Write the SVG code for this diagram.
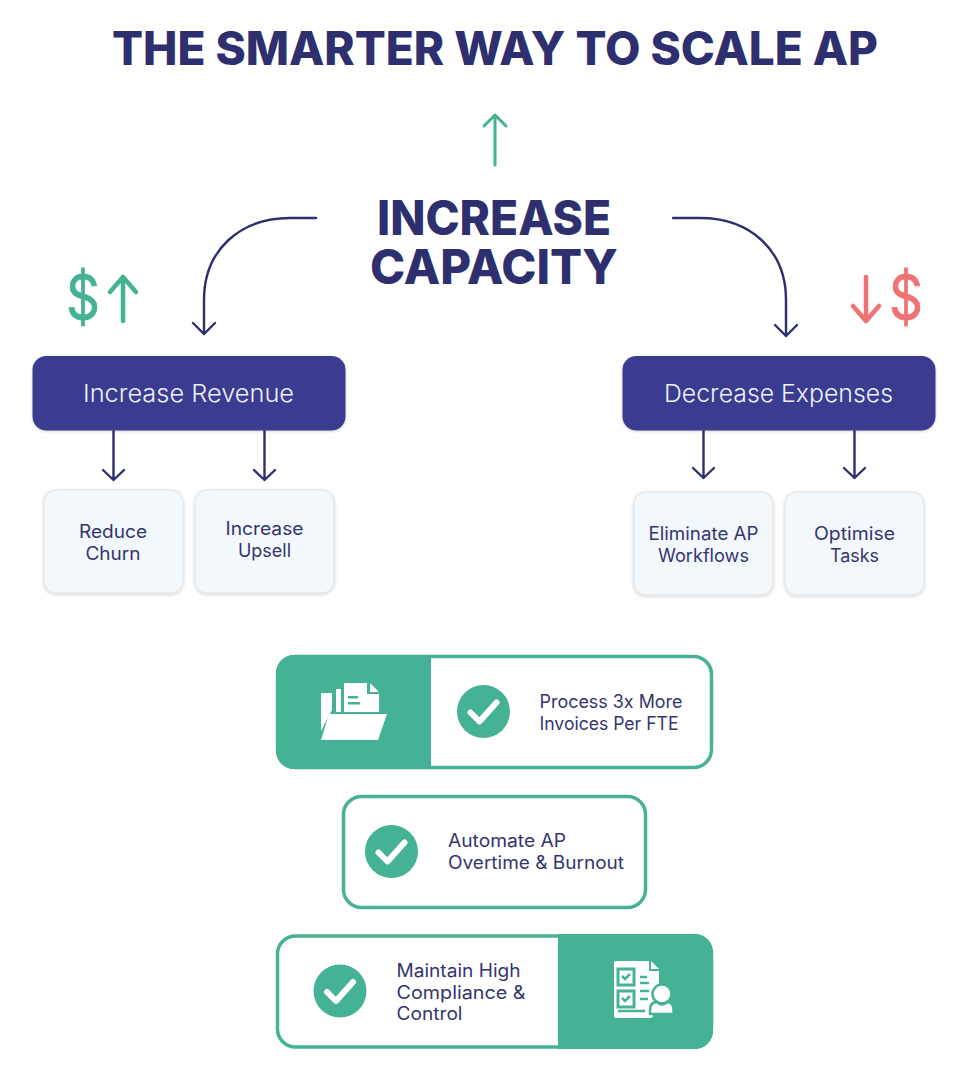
<svg xmlns="http://www.w3.org/2000/svg" width="968" height="1080" viewBox="0 0 968 1080">
<defs>
<filter id="sh" x="-10%" y="-10%" width="120%" height="125%"><feDropShadow dx="0" dy="1" stdDeviation="1.5" flood-color="#000" flood-opacity="0.18"/></filter>
<g id="check"><circle r="26.5" fill="#45b296"/><path d="M-13 1 L-4 10 L13 -9" fill="none" stroke="#fff" stroke-width="6" stroke-linecap="round" stroke-linejoin="round"/></g>
</defs>
<style>
text{font-family:"Inter","Liberation Sans",sans-serif;text-anchor:middle}
.title{font-weight:800;fill:#2e2f6e}
.hd{font-size:24px;font-weight:300;fill:#eef0fa}
.sub{font-size:18px;font-weight:400;fill:#34356f}
.lbl{font-size:18px;font-weight:400;fill:#34356f;text-anchor:start}
.dark{fill:#3a3a90;filter:url(#sh)}
.light{fill:#f3f8fd;stroke:#e6e8ea;stroke-width:1.5;filter:url(#sh)}
.outline{fill:#fff;stroke:#45b296;stroke-width:3.5}
.teal{fill:#45b296}
.conn{fill:none;stroke:#2e2f6e;stroke-width:2.4;stroke-linecap:round;stroke-linejoin:round}
.gr{fill:none;stroke:#45b296;stroke-width:3;stroke-linecap:round;stroke-linejoin:round}
.sym{fill:none;stroke-width:4.5;stroke-linecap:round;stroke-linejoin:round}
</style>
<rect width="968" height="1080" fill="#fff"/>
<text class="title" x="495" y="65" font-size="46" textLength="766" lengthAdjust="spacingAndGlyphs">THE SMARTER WAY TO SCALE AP</text>

<g id="connectors">
<path class="gr" d="M495 165 V115 M484 126 L495 115 L506 126"/>
<path class="conn" d="M316 218 H290 C240 218 204 250 204 300 V334 M193 323 L204 334 L215 323"/>
<path class="conn" d="M673 218 H700 C750 218 786 250 786 300 V336 M775 325 L786 336 L797 325"/>
<path class="conn" d="M113.500 431 V480 M103 470 L113.500 480 L124 470"/>
<path class="conn" d="M264.500 431 V480 M254 470 L264.500 480 L275 470"/>
<path class="conn" d="M703.500 431 V478 M693 468 L703.500 478 L714 468"/>
<path class="conn" d="M854.500 431 V478 M844 468 L854.500 478 L865 468"/>
</g>

<g id="capacity">
<text class="title" x="494" y="235" font-size="48" textLength="234" lengthAdjust="spacingAndGlyphs">INCREASE</text>
<text class="title" x="494" y="284" font-size="48" textLength="248" lengthAdjust="spacingAndGlyphs">CAPACITY</text>
</g>

<g id="revenue-symbols">
<text x="83" y="320" font-size="63" font-weight="400" fill="#45b296" stroke="#45b296" stroke-width="0.8" textLength="34" lengthAdjust="spacingAndGlyphs">$</text>
<path class="sym" stroke="#45b296" d="M123 321 V277 M110 292 L123 277 L136 292"/>
</g>
<g id="expense-symbols">
<text x="906" y="320" font-size="63" font-weight="400" fill="#ef7275" stroke="#ef7275" stroke-width="0.8" textLength="34" lengthAdjust="spacingAndGlyphs">$</text>
<path class="sym" stroke="#ef7275" d="M866 277 V321 M853 306 L866 321 L879 306"/>
</g>

<g id="increase-revenue">
<rect class="dark" x="32.500" y="356" width="313" height="74.500" rx="14"/>
<text class="hd" x="188.500" y="402" textLength="211" lengthAdjust="spacingAndGlyphs">Increase Revenue</text>
</g>
<g id="decrease-expenses">
<rect class="dark" x="622.500" y="356" width="313" height="74.500" rx="14"/>
<text class="hd" x="778.500" y="402" textLength="229" lengthAdjust="spacingAndGlyphs">Decrease Expenses</text>
</g>

<g id="reduce-churn">
<rect class="light" x="44" y="490" width="139" height="103" rx="12"/>
<text class="sub" x="113" y="538" textLength="68" lengthAdjust="spacingAndGlyphs">Reduce</text>
<text class="sub" x="113" y="559.500" textLength="55" lengthAdjust="spacingAndGlyphs">Churn</text>
</g>
<g id="increase-upsell">
<rect class="light" x="195" y="490" width="139" height="103" rx="12"/>
<text class="sub" x="264.500" y="535" textLength="78" lengthAdjust="spacingAndGlyphs">Increase</text>
<text class="sub" x="264.500" y="557" textLength="53" lengthAdjust="spacingAndGlyphs">Upsell</text>
</g>
<g id="eliminate-ap">
<rect class="light" x="634" y="492" width="139" height="103" rx="12"/>
<text class="sub" x="703.500" y="540" textLength="110" lengthAdjust="spacingAndGlyphs">Eliminate AP</text>
<text class="sub" x="703.500" y="562" textLength="91" lengthAdjust="spacingAndGlyphs">Workflows</text>
</g>
<g id="optimise-tasks">
<rect class="light" x="785" y="492" width="139" height="103" rx="12"/>
<text class="sub" x="854.500" y="540" textLength="81" lengthAdjust="spacingAndGlyphs">Optimise</text>
<text class="sub" x="854.500" y="562" textLength="49" lengthAdjust="spacingAndGlyphs">Tasks</text>
</g>

<g id="process-invoices">
<rect class="outline" x="277.500" y="656.500" width="434" height="111" rx="18"/>
<path class="teal" d="M431 655 H294 A18 18 0 0 0 276 673 V751 A18 18 0 0 0 294 769 H431 Z"/>
<g fill="#fff">
<path d="M321 693 H332 V710 L321 731 Z"/>
<path d="M336 689 H341 V712 H336 Z"/>
<path fill-rule="evenodd" d="M344 683 H367 V694 H379 V712 H344 Z M348 696 V698.500 H358 V696 Z M348 702 V704.500 H360 V702 Z"/>
<path d="M370 683 L379 692 H370 Z"/>
<path d="M329 714 H387 L378 740 H321 Z"/>
</g>
<use href="#check" x="483.500" y="711.500"/>
<text class="lbl" x="539.500" y="707.500" textLength="143" lengthAdjust="spacingAndGlyphs">Process 3x More</text>
<text class="lbl" x="539.500" y="729.500" textLength="139" lengthAdjust="spacingAndGlyphs">Invoices Per FTE</text>
</g>

<g id="automate-ap">
<rect class="outline" x="343.500" y="796.500" width="302" height="111" rx="18"/>
<use href="#check" x="391.500" y="851.500"/>
<text class="lbl" x="448" y="847" textLength="118" lengthAdjust="spacingAndGlyphs">Automate AP</text>
<text class="lbl" x="448" y="869" textLength="176" lengthAdjust="spacingAndGlyphs">Overtime &amp; Burnout</text>
</g>

<g id="maintain-compliance">
<rect class="outline" x="277.500" y="936" width="434" height="111" rx="18"/>
<path class="teal" d="M558 934 H695 A18 18 0 0 1 713 952 V1031 A18 18 0 0 1 695 1049 H558 Z"/>
<path fill="#fff" d="M616 961 H649 V971 H659 V1012 H653 V1015 Q653 1018 650 1018 H616 Q614 1018 614 1016 V963 Q614 961 616 961Z"/>
<path fill="#fff" d="M651 961 L659 969 H651 Z"/>
<g fill="none" stroke="#45b296">
<rect x="618" y="969" width="16" height="16" stroke-width="3"/>
<rect x="618" y="991" width="16" height="16" stroke-width="3"/>
<path stroke-width="2.500" d="M622 976 L625 979 L630 974 M622 998 L625 1001 L630 996 M640 977 H647 M640 983 H649 M640 991 H649 M640 999 H648 M618 1011 H645"/>
</g>
<circle cx="662" cy="994" r="9.500" fill="#fff" stroke="#45b296" stroke-width="2.500"/>
<path fill="#fff" stroke="#45b296" stroke-width="2.500" d="M650 1014 V1010 Q650 1002 657 1002 Q662 1007 667 1002 Q673.500 1002 673.500 1010 V1014 Z"/>
<use href="#check" x="340" y="991"/>
<text class="lbl" x="396.500" y="977" textLength="124" lengthAdjust="spacingAndGlyphs">Maintain High</text>
<text class="lbl" x="396.500" y="998.500" textLength="129" lengthAdjust="spacingAndGlyphs">Compliance &amp;</text>
<text class="lbl" x="396.500" y="1020" textLength="66" lengthAdjust="spacingAndGlyphs">Control</text>
</g>
</svg>
